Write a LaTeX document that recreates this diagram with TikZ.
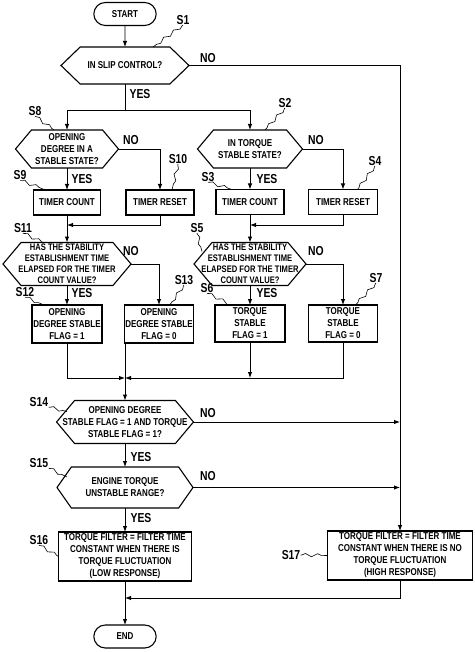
\documentclass[tikz,border=0pt]{standalone}
\usepackage{fontspec}
\setmainfont{Liberation Sans}[FakeStretch=0.8]
\usetikzlibrary{arrows.meta,shapes.symbols,shapes.misc,decorations.pathmorphing}
\tikzset{
  txt/.style={font=\fontsize{10}{12}\selectfont\bfseries, align=center},
  proc/.style={txt, draw, line width=1.1pt, rectangle, inner sep=1pt, outer sep=0pt},
  test/.style={txt, draw, line width=1.1pt, shape=signal, signal to=west and east,
    signal pointer angle=100, inner xsep=-12pt, inner ysep=0pt, outer sep=0pt},
  term/.style={txt, draw, line width=1.1pt, rounded rectangle, minimum width=69pt,
    minimum height=23pt, outer sep=0pt},
  lbl/.style={font=\fontsize{13}{15}\selectfont\bfseries, inner sep=0pt},
  lead/.style={line width=0.6pt, decorate,
    decoration={snake, amplitude=1.6pt, segment length=12pt, pre length=1pt, post length=1pt}},
}
\begin{document}
\begin{tikzpicture}[x=1pt,y=-1pt,line width=0.9pt,>={Latex[length=6pt,width=4.5pt]}]
\useasboundingbox (0,0) rectangle (474,652);
% main column
\node[term] (start) at (125,14) {START};
\node[test, minimum width=128pt, minimum height=37pt, signal pointer angle=88] (s1) at (125,65.5) {IN SLIP CONTROL?};
% opening degree branch
\node[test, minimum width=103pt, minimum height=38pt] (s8) at (67,149) {OPENING\\DEGREE IN A\\STABLE STATE?};
\node[proc, minimum width=67pt, minimum height=25pt] (s9) at (67,202.5) {TIMER COUNT};
\node[proc, minimum width=68pt, minimum height=25pt] (s10) at (160,202.5) {TIMER RESET};
\node[test, font=\fontsize{9.5}{11}\selectfont\bfseries, minimum width=128pt, minimum height=43pt] (s11) at (67,264)
  {HAS THE STABILITY\\ESTABLISHMENT TIME\\ELAPSED FOR THE TIMER\\COUNT VALUE?};
\node[proc, minimum width=70pt, minimum height=38pt] (s12) at (67,324) {OPENING\\DEGREE STABLE\\FLAG = 1};
\node[proc, minimum width=69pt, minimum height=38pt] (s13) at (159,324) {OPENING\\DEGREE STABLE\\FLAG = 0};
% torque branch
\node[test, minimum width=105pt, minimum height=38pt] (s2) at (250,149) {IN TORQUE\\STABLE STATE?};
\node[proc, minimum width=68pt, minimum height=25pt] (s3) at (250,202) {TIMER COUNT};
\node[proc, minimum width=69pt, minimum height=25pt] (s4) at (343,202) {TIMER RESET};
\node[test, font=\fontsize{9.5}{11}\selectfont\bfseries, minimum width=112pt, minimum height=43pt] (s5) at (250,264)
  {HAS THE STABILITY\\ESTABLISHMENT TIME\\ELAPSED FOR THE TIMER\\COUNT VALUE?};
\node[proc, minimum width=70pt, minimum height=37pt] (s6) at (250,323.5) {TORQUE\\STABLE\\FLAG = 1};
\node[proc, minimum width=69pt, minimum height=37pt] (s7) at (343,323.5) {TORQUE\\STABLE\\FLAG = 0};
% filter choice
\node[test, minimum width=134pt, minimum height=43pt] (s14) at (125,422) {OPENING DEGREE\\STABLE FLAG = 1 AND TORQUE\\STABLE FLAG = 1?};
\node[test, minimum width=136pt, minimum height=41pt, signal pointer angle=110] (s15) at (125,487.5) {ENGINE TORQUE\\UNSTABLE RANGE?};
\node[proc, minimum width=133pt, minimum height=49pt] (s16) at (125,556.5)
  {TORQUE FILTER = FILTER TIME\\CONSTANT WHEN THERE IS\\TORQUE FLUCTUATION\\(LOW RESPONSE)};
\node[proc, minimum width=145pt, minimum height=49pt] (s17) at (400,555.5)
  {TORQUE FILTER = FILTER TIME\\CONSTANT WHEN THERE IS NO\\TORQUE FLUCTUATION\\(HIGH RESPONSE)};
\node[term] (end) at (125,636.5) {END};

% step labels
\node[lbl] (l1) at (183,20) {S1};
\node[lbl] (l2) at (285,103) {S2};
\node[lbl] (l3) at (208,177) {S3};
\node[lbl] (l4) at (375,161) {S4};
\node[lbl] (l5) at (197,228) {S5};
\node[lbl] (l6) at (207,288) {S6};
\node[lbl] (l7) at (376,278) {S7};
\node[lbl] (l8) at (35,111) {S8};
\node[lbl] (l9) at (20,175) {S9};
\node[lbl] (l10) at (178,159) {S10};
\node[lbl] (l11) at (23,228) {S11};
\node[lbl] (l12) at (25,292) {S12};
\node[lbl] (l13) at (184,280) {S13};
\node[lbl] (l14) at (39,402) {S14};
\node[lbl] (l15) at (39,463) {S15};
\node[lbl] (l16) at (39,540) {S16};
\node[lbl] (l17) at (291,555) {S17};
\draw[lead] (l1.south) -- ([xshift=28pt]s1.north);
\draw[lead] (l2.south) -- ([xshift=15pt]s2.north);
\draw[lead] (l3.south) -- ([xshift=16pt]s3.north west);
\draw[lead] (l4.south) -- ([xshift=-20pt]s4.north east);
\draw[lead] (l5.south) -- ([xshift=-48pt,yshift=-9pt]s5.north);
\draw[lead] (l6.south) -- ([xshift=17pt]s6.north west);
\draw[lead] (l7.south) -- ([xshift=-22pt]s7.north east);
\draw[lead] (l8.south) -- ([xshift=-13pt]s8.north);
\draw[lead] (l9.south) -- ([xshift=12pt]s9.north west);
\draw[lead] (l10.south) -- ([xshift=12pt]s10.north);
\draw[lead] (l11.south) -- ([xshift=-24pt]s11.north);
\draw[lead] (l12.south) -- ([xshift=12pt]s12.north west);
\draw[lead] (l13.south) -- ([xshift=-24pt]s13.north east);
\draw[lead] (l14.south east) -- ([xshift=-58pt,yshift=-11pt]s14.north);
\draw[lead] (l15.south east) -- ([xshift=-58pt,yshift=-10pt]s15.north);
\draw[lead] (l16.south) -- (s16.west);
\draw[lead] (l17.east) -- (s17.west);

% yes / no
\node[lbl] (n1) at (208,58) {NO};
\node[lbl] (y1) at (140,94) {YES};
\node[lbl] (n8) at (131,140) {NO};
\node[lbl] (y8) at (82,179) {YES};
\node[lbl] (n2) at (316,140) {NO};
\node[lbl] (y2) at (267,179) {YES};
\node[lbl] (n11) at (131,251) {NO};
\node[lbl] (y11) at (82,293) {YES};
\node[lbl] (n5) at (316,251) {NO};
\node[lbl] (y5) at (267,293) {YES};
\node[lbl] (n14) at (208,413) {NO};
\node[lbl] (y14) at (141,457) {YES};
\node[lbl] (n15) at (208,476) {NO};
\node[lbl] (y15) at (141,518) {YES};

% connectors
\coordinate (fork1) at (125,110);
\coordinate (join1) at (67,225);
\coordinate (join2) at (250,225);
\coordinate (join3) at (125,378);
\coordinate (join4) at (125,598);
\draw[->] (start) -- (s1);
\draw[->] (s1.east) -| (s17.north);
\draw (s1.south) -- (fork1);
\draw[->] (fork1) -| (s8.north);
\draw[->] (fork1) -| (s2.north);
\draw[->] (s8.south) -- (s9.north);
\draw[->] (s8.east) -| (s10.north);
\draw[->] (s10.south) |- (join1);
\draw[->] (s9.south) -- (s11.north);
\draw[->] (s11.south) -- (s12.north);
\draw[->] (s11.east) -| (s13.north);
\draw[->] (s12.south) |- (join3);
\draw[->] (s2.south) -- (s3.north);
\draw[->] (s2.east) -| (s4.north);
\draw[->] (s4.south) |- (join2);
\draw[->] (s3.south) -- (s5.north);
\draw[->] (s5.south) -- (s6.north);
\draw[->] (s5.east) -| (s7.north);
\draw[->] (s6.south) -- (s6.south |- join3);
\draw[->] (s7.south) |- (join3);
\draw[->] (s14.north |- s13.south) -- (s14.north);
\draw[->] (s14.south) -- (s15.north);
\draw[->] (s14.east) -- (s14.east -| s17.north);
\draw[->] (s15.east) -- (s15.east -| s17.north);
\draw[->] (s15.south) -- (s16.north);
\draw[->] (s16.south) -- (end.north);
\draw[->] (s17.south) |- (join4);
\end{tikzpicture}
\end{document}
